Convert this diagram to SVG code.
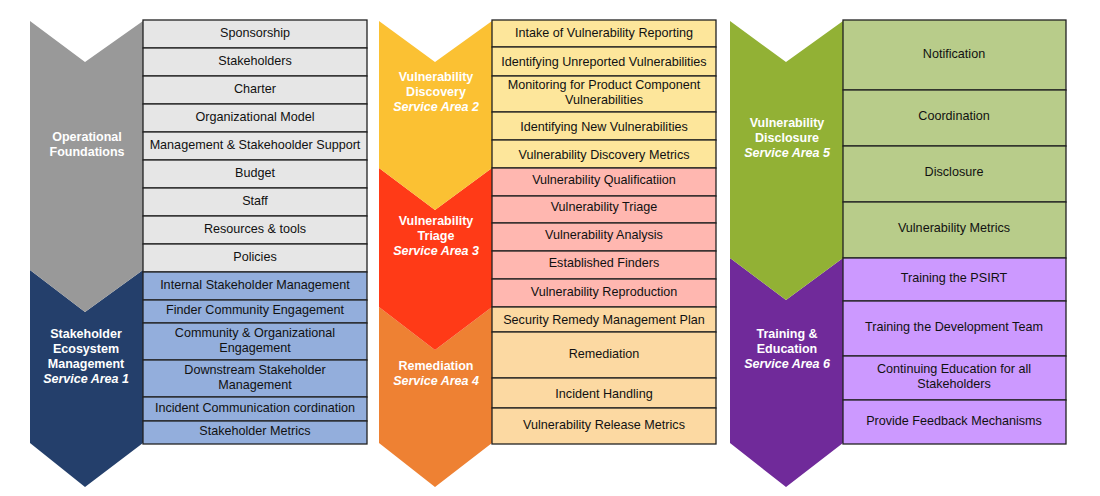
<svg xmlns="http://www.w3.org/2000/svg" width="1100" height="496" viewBox="0 0 1100 496">
<style>
.lbl{font-family:"Liberation Sans",Arial,sans-serif;font-size:12.5px;font-weight:bold;fill:#fff;text-anchor:middle}
.lbl .i{font-style:italic}
.b rect{stroke:#222;stroke-width:1.3}
.b text{font-family:"Liberation Sans",Arial,sans-serif;font-size:12.6px;fill:#111;text-anchor:middle}
.g rect{fill:#E6E6E6}.bl rect{fill:#93AEDC}.y rect{fill:#FDE69B}.r rect{fill:#FFB7B0}.o rect{fill:#FCD9A2}.gr rect{fill:#B8CC8A}.p rect{fill:#CC99FF}
</style>
<rect width="1100" height="496" fill="#fff"/>
<g id="connectors"></g>
<!-- column 1 -->
<g id="sa1"><polygon points="30,270 85,312 143,270 143,443 85,487 30,443" fill="#243F6B"/>
<text class="lbl" x="86" y="338">Stakeholder<tspan x="86" dy="15">Ecosystem</tspan><tspan x="86" dy="15">Management</tspan><tspan class="i" x="86" dy="15">Service Area 1</tspan></text></g>
<g id="of"><polygon points="30,21 85,62 143,21 143,270 85,312 30,270" fill="#999999"/>
<text class="lbl" x="87" y="141">Operational<tspan x="87" dy="15">Foundations</tspan></text></g>
<g id="of-items" class="b g">
<rect x="143" y="20" width="224" height="28"/><text x="255" y="37">Sponsorship</text>
<rect x="143" y="48" width="224" height="28"/><text x="255" y="65">Stakeholders</text>
<rect x="143" y="76" width="224" height="28"/><text x="255" y="93">Charter</text>
<rect x="143" y="104" width="224" height="28"/><text x="255" y="121">Organizational Model</text>
<rect x="143" y="132" width="224" height="28"/><text x="255" y="149">Management &amp; Stakehoolder Support</text>
<rect x="143" y="160" width="224" height="28"/><text x="255" y="177">Budget</text>
<rect x="143" y="188" width="224" height="28"/><text x="255" y="205">Staff</text>
<rect x="143" y="216" width="224" height="28"/><text x="255" y="233">Resources &amp; tools</text>
<rect x="143" y="244" width="224" height="28"/><text x="255" y="261">Policies</text>
</g>
<g id="sa1-items" class="b bl">
<rect x="143" y="272" width="224" height="28"/><text x="255" y="289">Internal Stakeholder Management</text>
<rect x="143" y="300" width="224" height="23"/><text x="255" y="314">Finder Community Engagement</text>
<rect x="143" y="323" width="224" height="37"/><text x="255" y="337">Community &amp; Organizational<tspan x="255" dy="15">Engagement</tspan></text>
<rect x="143" y="360" width="224" height="37"/><text x="255" y="374">Downstream Stakeholder<tspan x="255" dy="15">Management</tspan></text>
<rect x="143" y="397" width="224" height="24"/><text x="255" y="412">Incident Communication cordination</text>
<rect x="143" y="421" width="224" height="23"/><text x="255" y="435">Stakeholder Metrics</text>
</g>
<!-- column 2 -->
<g id="sa4"><polygon points="379,307 435,350 492,307 492,443 435,487 379,443" fill="#EE8133"/>
<text class="lbl" x="436" y="370">Remediation<tspan class="i" x="436" dy="15">Service Area 4</tspan></text></g>
<g id="sa3"><polygon points="379,168 435,210 492,168 492,307 435,350 379,307" fill="#FF3A17"/>
<text class="lbl" x="436" y="225">Vulnerability<tspan x="436" dy="15">Triage</tspan><tspan class="i" x="436" dy="15">Service Area 3</tspan></text></g>
<g id="sa2"><polygon points="379,21 435,62 492,21 492,168 435,210 379,168" fill="#FBC133"/>
<text class="lbl" x="436" y="81">Vulnerability<tspan x="436" dy="15">Discovery</tspan><tspan class="i" x="436" dy="15">Service Area 2</tspan></text></g>
<g id="sa2-items" class="b y">
<rect x="492" y="20" width="224" height="27"/><text x="604" y="37">Intake of Vulnerability Reporting</text>
<rect x="492" y="47" width="224" height="29"/><text x="604" y="66">Identifying Unreported Vulnerabilities</text>
<rect x="492" y="76" width="224" height="36"/><text x="604" y="89">Monitoring for Product Component<tspan x="604" dy="15">Vulnerabilities</tspan></text>
<rect x="492" y="112" width="224" height="28"/><text x="604" y="131">Identifying New Vulnerabilities</text>
<rect x="492" y="140" width="224" height="28"/><text x="604" y="159">Vulnerability Discovery Metrics</text>
</g>
<g id="sa3-items" class="b r">
<rect x="492" y="168" width="224" height="28"/><text x="604" y="184">Vulnerability Qualificatiion</text>
<rect x="492" y="196" width="224" height="27"/><text x="604" y="211">Vulnerability Triage</text>
<rect x="492" y="223" width="224" height="28"/><text x="604" y="239">Vulnerability Analysis</text>
<rect x="492" y="251" width="224" height="28"/><text x="604" y="267">Established Finders</text>
<rect x="492" y="279" width="224" height="28"/><text x="604" y="296">Vulnerability Reproduction</text>
</g>
<g id="sa4-items" class="b o">
<rect x="492" y="307" width="224" height="25"/><text x="604" y="324">Security Remedy Management Plan</text>
<rect x="492" y="332" width="224" height="46"/><text x="604" y="358">Remediation</text>
<rect x="492" y="378" width="224" height="30"/><text x="604" y="398">Incident Handling</text>
<rect x="492" y="408" width="224" height="36"/><text x="604" y="429">Vulnerability Release Metrics</text>
</g>
<!-- column 3 -->
<g id="sa6"><polygon points="730,258 786,300 843,258 843,443 786,487 730,443" fill="#702A9A"/>
<text class="lbl" x="787" y="338">Training &amp;<tspan x="787" dy="15">Education</tspan><tspan class="i" x="787" dy="15">Service Area 6</tspan></text></g>
<g id="sa5"><polygon points="730,21 786,62 843,21 843,258 786,300 730,258" fill="#92B135"/>
<text class="lbl" x="787" y="127">Vulnerability<tspan x="787" dy="15">Disclosure</tspan><tspan class="i" x="787" dy="15">Service Area 5</tspan></text></g>
<g id="sa5-items" class="b gr">
<rect x="843" y="20" width="223" height="70"/><text x="954" y="58">Notification</text>
<rect x="843" y="90" width="223" height="56"/><text x="954" y="120">Coordination</text>
<rect x="843" y="146" width="223" height="56"/><text x="954" y="176">Disclosure</text>
<rect x="843" y="202" width="223" height="56"/><text x="954" y="232">Vulnerability Metrics</text>
</g>
<g id="sa6-items" class="b p">
<rect x="843" y="258" width="223" height="43"/><text x="954" y="282">Training the PSIRT</text>
<rect x="843" y="301" width="223" height="55"/><text x="954" y="331">Training the Development Team</text>
<rect x="843" y="356" width="223" height="44"/><text x="954" y="373">Continuing Education for all<tspan x="954" dy="15">Stakeholders</tspan></text>
<rect x="843" y="400" width="223" height="44"/><text x="954" y="425">Provide Feedback Mechanisms</text>
</g>
</svg>
